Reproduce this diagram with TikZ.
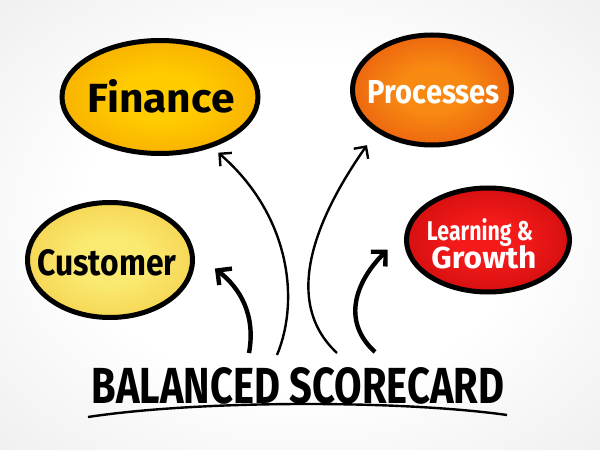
\documentclass[tikz,border=0pt]{standalone}
\usepackage{fontspec}
\usepackage{graphicx}
\usetikzlibrary{shapes.geometric,arrows.meta}
\setmainfont{Fira Sans}

\definecolor{finin}{HTML}{FFCC00}
\definecolor{finout}{HTML}{F49A00}
\definecolor{proin}{HTML}{F88A12}
\definecolor{proout}{HTML}{E2460C}
\definecolor{cusin}{HTML}{FAEA72}
\definecolor{cusout}{HTML}{F3C43A}
\definecolor{lrnin}{HTML}{F41A1A}
\definecolor{lrnout}{HTML}{BA0606}

\pgfdeclareradialshading{paper}{\pgfpoint{0bp}{0bp}}{color(0bp)=(white); color(18bp)=(white); color(50bp)=(black!11); color(72bp)=(black!15)}
\pgfdeclareradialshading[bubin,bubout]{glow}{\pgfpoint{0bp}{0bp}}{color(0bp)=(bubin); color(10bp)=(bubin); color(40bp)=(bubout); color(50bp)=(bubout)}

\tikzset{
        bubble/.style = {ellipse, draw = black, line width = 1.25mm, inner sep = 0pt},
        glow with/.style 2 args = {/utils/exec = {\colorlet{bubin}{#1}\colorlet{bubout}{#2}}, shading = glow},
        word/.style = {anchor = base, font = \bfseries, inner sep = 0pt},
        stroke/.style = {line width = 0.6mm, -{Straight Barb[length = 2.2mm, width = 4.4mm]}},
        fatstroke/.style = {line width = 1.1mm, -{Straight Barb[length = 2.6mm, width = 5.2mm]}}
}

\begin{document}
\begin{tikzpicture}[x = 0.25mm, y = -0.25mm]
        \useasboundingbox (0, 0) rectangle (600, 450);
        \shade[shading = paper] (0, 0) rectangle (600, 450);

        \node[bubble, minimum width = 49mm, minimum height = 28.25mm, glow with = {finin}{finout}] (fin) at (160, 97) {};
        \node[bubble, minimum width = 39.75mm, minimum height = 27.5mm, glow with = {proin}{proout}] (pro) at (432, 90) {};
        \node[bubble, minimum width = 41.25mm, minimum height = 28.75mm, glow with = {cusin}{cusout}] (cus) at (110, 260) {};
        \node[bubble, minimum width = 40.75mm, minimum height = 26mm, glow with = {lrnin}{lrnout}] (lrn) at (488, 240) {};

        \node[word] (finw) at (161, 113) {\resizebox{36.75mm}{8.25mm}{Finance}};
        \node[word, text = white] (prow) at (434, 103) {\resizebox{33mm}{5.75mm}{Processes}};
        \node[word] (cusw) at (107, 275) {\resizebox{34.75mm}{6.5mm}{Customer}};
        \node[word, text = white] (lrnw) at (480, 240) {\resizebox{26.5mm}{5.5mm}{Learning \&}};
        \node[word, text = white] (groww) at (484, 268) {\resizebox{26.25mm}{5.75mm}{Growth}};
        \node[word] (title) at (298, 403) {\resizebox{103mm}{9mm}{BALANCED SCORECARD}};

        \coordinate (s1) at (277, 355);
        \coordinate (s2) at (249, 353);
        \coordinate (s3) at (337, 353);
        \coordinate (s4) at (375, 352);

        \draw[stroke, shorten > = 2mm] (s1) .. controls (300, 300) and (290, 215) .. (fin.-44);
        \draw[fatstroke, shorten > = 6.5mm] (s2) .. controls (256, 315) and (240, 288) .. (cus.5);
        \draw[stroke, shorten > = 4mm] (s3) .. controls (280, 300) and (318, 215) .. (pro.-143);
        \draw[fatstroke, shorten > = 6mm] (s4) .. controls (340, 320) and (357, 280) .. (lrn.175);

        \draw[line width = 0.6mm] (88, 417) .. controls (200, 400) and (400, 400) .. (507, 415);
\end{tikzpicture}
\end{document}
